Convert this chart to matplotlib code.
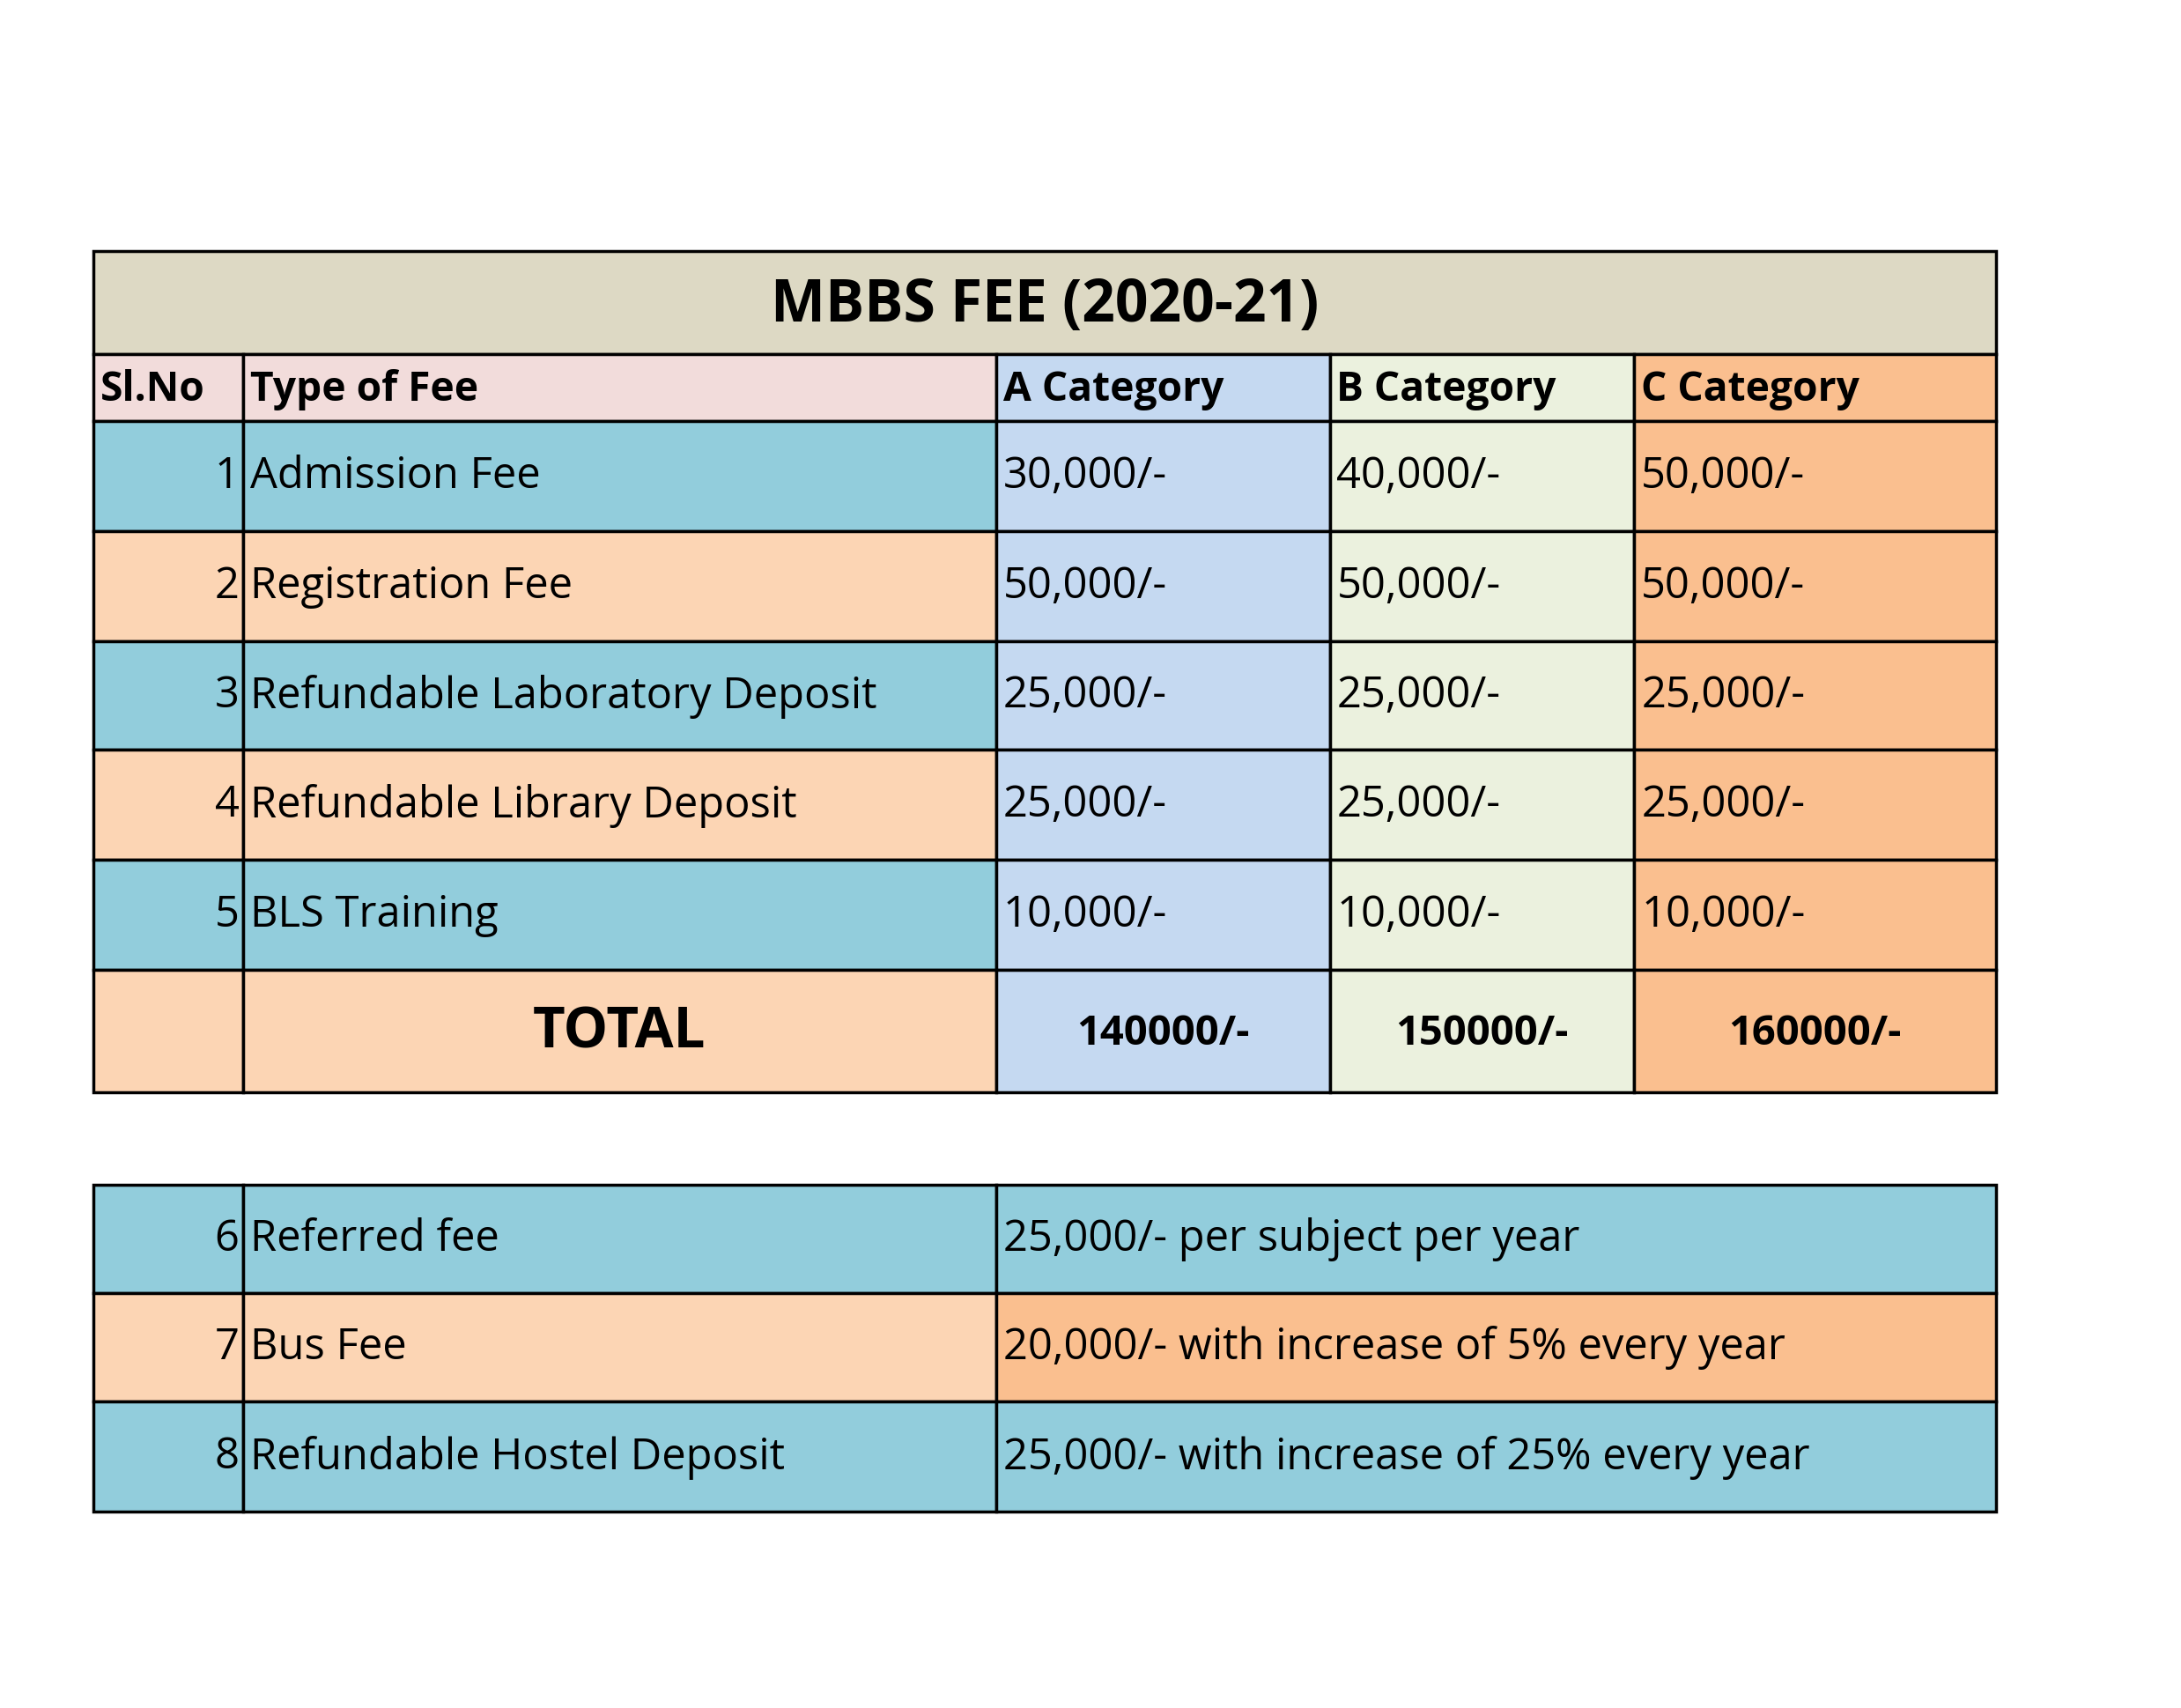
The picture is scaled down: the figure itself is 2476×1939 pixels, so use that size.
import matplotlib
matplotlib.use("Agg")
import matplotlib.pyplot as plt
from matplotlib.patches import Rectangle

title = "MBBS FEE (2020-21)"
headers = ["Sl.No", "Type of Fee", "A Category", "B Category", "C Category"]
sl_nos = ["1", "2", "3", "4", "5"]
fee_types = ["Admission Fee", "Registration Fee", "Refundable Laboratory Deposit",
             "Refundable Library Deposit", "BLS Training"]
a_vals = ["30,000/-", "50,000/-", "25,000/-", "25,000/-", "10,000/-"]
b_vals = ["40,000/-", "50,000/-", "25,000/-", "25,000/-", "10,000/-"]
c_vals = ["50,000/-", "50,000/-", "25,000/-", "25,000/-", "10,000/-"]
totals = ["140000/-", "150000/-", "160000/-"]
extra_sl = ["6", "7", "8"]
extra_types = ["Referred fee", "Bus Fee", "Refundable Hostel Deposit"]
extra_vals = ["25,000/- per subject per year", "20,000/- with increase of 5% every year",
              "25,000/- with increase of 25% every year"]

BLUE = "#92CDDC"; PEACH = "#FCD5B4"; ACOL = "#C5D9F1"; BCOL = "#EBF1DE"; CCOL = "#FABF8F"
TITLEBG = "#DDD9C4"; HEADBG = "#F2DCDB"
FONT = "Open Sans"

fig = plt.figure(figsize=(24.76, 19.40), dpi=100)
ax = fig.add_axes([0, 0, 1, 1])
ax.set_xlim(0, 1568); ax.set_ylim(1227, 0); ax.axis("off")

xs = [67, 175, 716, 956, 1175, 1435]

def cell(x0, x1, y0, y1, color):
    ax.add_patch(Rectangle((x0, y0), x1 - x0, y1 - y0, facecolor=color,
                           edgecolor="black", linewidth=2.5))

def txt(x, y, s, ha="left", bold=False, size=21):
    ax.text(x, y, s, ha=ha, va="center", fontsize=size * 1.58,
            fontweight="bold" if bold else "normal", family=FONT)

cell(xs[0], xs[5], 181, 255, TITLEBG)
txt((xs[0] + xs[5]) / 2, 220, title, ha="center", bold=True, size=30)
hcols = [HEADBG, HEADBG, ACOL, BCOL, CCOL]
for i, h in enumerate(headers):
    cell(xs[i], xs[i + 1], 255, 303, hcols[i])
    txt(xs[i] + 5, 280, h, bold=True, size=21)
rows_y = [303, 382, 461, 539, 618, 697]
for r in range(5):
    y0, y1 = rows_y[r], rows_y[r + 1]
    rc = BLUE if r % 2 == 0 else PEACH
    cols = [rc, rc, ACOL, BCOL, CCOL]
    for i in range(5):
        cell(xs[i], xs[i + 1], y0, y1, cols[i])
    ym = (y0 + y1) / 2
    txt(xs[1] - 3, ym, sl_nos[r], ha="right", size=22.3)
    txt(xs[1] + 5, ym, fee_types[r], size=22.3)
    txt(xs[2] + 5, ym, a_vals[r], size=22.3)
    txt(xs[3] + 5, ym, b_vals[r], size=22.3)
    txt(xs[4] + 5, ym, c_vals[r], size=22.3)
cols = [PEACH, PEACH, ACOL, BCOL, CCOL]
for i in range(5):
    cell(xs[i], xs[i + 1], 697, 785, cols[i])
txt((xs[1] + xs[2]) / 2, 742, "TOTAL", ha="center", bold=True, size=29)
for i, t in enumerate(totals):
    txt((xs[2 + i] + xs[3 + i]) / 2, 742, t, ha="center", bold=True, size=21.5)
ys2 = [851, 929, 1007, 1086]
for r in range(3):
    y0, y1 = ys2[r], ys2[r + 1]
    rc = BLUE if r % 2 == 0 else PEACH
    vc = [BLUE, CCOL, BLUE][r]
    cell(xs[0], xs[1], y0, y1, rc)
    cell(xs[1], xs[2], y0, y1, rc)
    cell(xs[2], xs[5], y0, y1, vc)
    ym = (y0 + y1) / 2
    txt(xs[1] - 3, ym, extra_sl[r], ha="right", size=22.3)
    txt(xs[1] + 5, ym, extra_types[r], size=22.3)
    txt(xs[2] + 5, ym, extra_vals[r], size=22.3)

fig.savefig("out.png", dpi=100, facecolor="white")
